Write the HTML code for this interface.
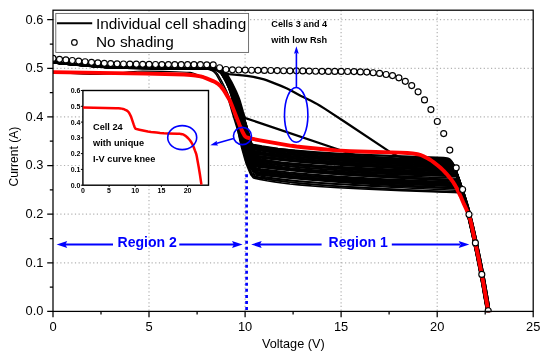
<!DOCTYPE html>
<html lang="en">
<head>
<meta charset="utf-8">
<title>I-V curves: individual cell shading</title>
<style>
html,body{margin:0;padding:0;background:#fff;}
body{width:550px;height:356px;overflow:hidden;}
svg{display:block;}
</style>
</head>
<body>
<svg width="550" height="356" viewBox="0 0 550 356" style="font-family:'Liberation Sans',Arial,Helvetica,sans-serif">
<rect width="550" height="356" fill="#fff"/>
<defs><clipPath id="pc"><rect x="53.0" y="10.2" width="480.2" height="302.0"/></clipPath></defs>
<path d="M149.0,10.2 V311.4 M245.1,10.2 V311.4 M341.1,10.2 V311.4 M437.2,10.2 V311.4 M53.0,262.8 H533.2 M53.0,214.2 H533.2 M53.0,165.5 H533.2 M53.0,116.9 H533.2 M53.0,68.3 H533.2 M53.0,19.7 H533.2" fill="none" stroke="#b2b2b2" stroke-width="1.2" stroke-dasharray="1.2 2.45"/>
<g clip-path="url(#pc)" fill="none" stroke-linejoin="round" stroke-linecap="butt">
<g stroke="#000" stroke-width="2.25">
<path d="M53.0,62.0 L57.0,62.6 L61.0,63.1 L97.0,66.2 L108.0,66.9 L125.5,67.4 L149.5,67.8 L175.0,68.1 L208.0,68.2 L213.0,68.5 L216.5,69.2 L218.0,69.8 L220.0,70.8 L221.5,71.9 L223.0,73.5 L224.5,75.9 L227.5,81.2 L230.5,87.2 L233.0,92.5 L234.5,96.1 L236.0,100.2 L239.5,112.2 L244.0,126.8 L248.0,141.1 L248.5,142.6 L249.0,143.6 L249.5,144.0 L253.5,144.9 L262.0,146.4 L278.0,148.8 L295.0,150.9 L314.0,152.8 L338.0,154.8 L365.5,156.6 L395.5,158.3 L442.5,160.7 L445.0,160.9 L446.5,161.2 L448.0,161.7 L449.5,162.4 L450.5,163.1 L451.5,164.1 L453.0,166.1 L454.5,168.9 L456.5,173.8 L459.0,181.3 L462.5,192.7 L465.5,203.2 L468.0,212.7 L470.5,222.8 L473.0,233.7 L476.0,247.5 L479.0,261.9 L482.5,280.1 L489.0,317.2"/>
<path d="M53.0,62.1 L56.5,62.6 L60.0,63.1 L78.0,64.7 L98.5,66.5 L108.0,67.2 L125.5,67.7 L149.0,68.0 L175.0,68.3 L208.5,68.4 L211.0,68.6 L214.0,68.9 L216.5,69.4 L218.0,69.9 L220.0,70.9 L221.5,71.9 L223.0,73.4 L224.0,74.8 L227.0,80.0 L228.5,82.9 L232.0,90.0 L234.0,94.4 L235.5,98.2 L237.0,102.7 L240.0,113.2 L244.0,126.1 L249.0,143.7 L249.5,144.8 L250.0,145.3 L250.5,145.4 L263.5,147.3 L278.5,149.1 L295.0,150.6 L313.5,152.0 L337.0,153.5 L364.5,154.8 L396.0,156.2 L443.5,157.9 L445.5,158.1 L447.0,158.3 L448.0,158.6 L449.0,159.0 L450.0,159.7 L450.5,160.2 L451.5,161.5 L452.0,162.3 L453.5,165.3 L455.5,170.6 L458.0,178.6 L461.5,190.8 L464.5,201.9 L467.5,213.8 L470.0,224.4 L472.5,235.6 L475.5,249.6 L478.5,264.3 L482.0,282.8 L489.0,322.8"/>
<path d="M53.0,62.0 L57.0,62.6 L61.0,63.1 L96.5,66.2 L107.5,66.9 L124.5,67.4 L148.0,67.8 L175.0,68.1 L207.5,68.2 L210.5,68.4 L213.5,68.7 L216.0,69.2 L217.5,69.7 L219.0,70.4 L220.5,71.4 L222.0,72.8 L223.0,74.0 L226.0,79.2 L228.0,82.9 L231.5,90.1 L233.5,94.5 L235.0,98.4 L236.0,101.3 L239.0,111.7 L243.5,126.4 L248.5,144.0 L249.0,145.2 L249.5,145.8 L250.0,146.0 L257.0,147.2 L265.0,148.4 L281.5,150.5 L300.0,152.5 L320.5,154.2 L344.5,155.9 L372.5,157.5 L404.5,159.0 L446.0,160.7 L449.0,161.0 L450.5,161.5 L451.5,162.2 L452.0,162.8 L453.0,164.3 L454.5,167.6 L456.0,171.9 L459.0,181.7 L463.0,195.6 L466.0,206.8 L468.5,216.7 L471.0,227.4 L473.5,238.6 L476.5,252.7 L479.0,265.0 L482.0,280.8 L489.0,320.7"/>
<path d="M53.0,62.4 L57.0,63.0 L61.0,63.5 L96.5,66.6 L107.5,67.3 L125.0,67.8 L148.5,68.2 L175.0,68.5 L209.0,68.6 L212.5,68.8 L215.0,69.1 L217.5,69.7 L219.0,70.2 L220.5,71.0 L222.0,72.0 L223.5,73.4 L224.5,74.8 L227.5,80.0 L229.0,82.8 L232.5,89.9 L234.5,94.3 L236.0,98.1 L237.5,102.6 L240.5,113.0 L245.0,127.6 L248.5,140.2 L250.0,145.2 L250.5,146.3 L251.0,146.7 L251.5,146.9 L257.0,147.9 L264.0,149.0 L278.5,150.9 L295.0,152.7 L313.5,154.3 L336.5,155.9 L364.0,157.5 L398.0,159.3 L447.5,161.6 L450.0,161.9 L451.0,162.1 L451.5,162.4 L452.5,163.3 L453.0,164.0 L454.0,166.0 L455.5,169.9 L457.0,174.5 L461.5,189.0 L464.5,199.0 L467.5,209.9 L470.0,219.8 L472.5,230.4 L475.0,241.7 L480.0,265.7 L483.0,281.5 L489.0,315.8"/>
<path d="M53.0,62.0 L57.0,62.6 L61.0,63.1 L96.5,66.2 L107.5,66.9 L125.0,67.4 L148.5,67.8 L175.0,68.1 L209.5,68.2 L213.5,68.5 L215.5,68.8 L218.0,69.3 L219.5,69.9 L221.0,70.7 L222.5,71.8 L224.0,73.3 L225.0,74.7 L227.5,79.0 L229.5,82.8 L233.0,89.9 L235.0,94.4 L236.5,98.2 L238.0,102.7 L241.0,113.2 L245.0,126.1 L249.0,140.4 L250.5,145.4 L251.0,146.9 L251.5,147.9 L252.0,148.2 L252.5,148.4 L259.0,149.5 L266.5,150.7 L282.5,152.8 L300.0,154.6 L320.0,156.3 L340.0,157.6 L362.5,158.9 L399.0,160.7 L449.0,162.7 L451.0,162.9 L452.0,163.2 L452.5,163.6 L453.0,164.1 L454.0,165.7 L455.0,168.1 L457.0,173.9 L462.5,190.6 L465.0,198.5 L468.0,208.9 L470.5,218.4 L472.5,226.6 L475.0,237.5 L478.0,251.4 L480.5,263.5 L484.0,281.8 L489.0,310.5"/>
<path d="M53.0,62.0 L57.0,62.6 L61.0,63.0 L96.5,66.1 L107.5,66.9 L124.5,67.4 L148.0,67.7 L174.5,68.0 L208.5,68.1 L211.5,68.3 L214.5,68.7 L217.0,69.2 L218.5,69.7 L220.0,70.5 L221.5,71.5 L223.0,72.9 L224.0,74.3 L227.0,79.5 L228.5,82.3 L232.0,89.4 L234.0,93.8 L235.5,97.5 L237.0,102.0 L240.0,112.4 L244.5,127.1 L248.0,139.6 L250.0,146.3 L250.5,147.7 L251.0,148.5 L251.5,148.8 L252.0,149.0 L258.5,150.2 L266.0,151.4 L273.5,152.5 L281.5,153.6 L299.0,155.5 L319.0,157.3 L338.5,158.7 L361.5,160.1 L399.0,162.1 L450.0,164.5 L452.0,164.6 L453.0,165.0 L453.5,165.3 L454.0,166.0 L454.5,166.9 L455.5,169.3 L463.0,191.0 L465.0,197.0 L467.0,203.4 L469.0,210.4 L471.0,218.0 L473.0,226.1 L475.5,236.9 L480.5,260.4 L484.0,278.3 L489.0,306.8"/>
<path d="M53.0,61.9 L57.5,62.6 L61.5,63.0 L96.0,66.2 L107.5,67.0 L124.5,67.5 L147.0,67.9 L174.0,68.2 L207.0,68.3 L210.5,68.5 L213.0,68.8 L215.5,69.4 L217.0,69.9 L218.5,70.7 L220.0,71.7 L221.5,73.2 L222.5,74.6 L225.5,79.8 L227.5,83.6 L231.0,90.8 L233.0,95.4 L234.5,99.3 L235.5,102.4 L238.5,112.9 L243.0,127.5 L246.5,140.1 L248.5,146.8 L249.5,149.6 L250.0,150.2 L250.5,150.4 L257.5,151.6 L266.0,153.0 L274.5,154.2 L283.5,155.3 L303.0,157.5 L324.5,159.4 L347.0,161.1 L372.5,162.7 L407.5,164.5 L451.5,166.5 L452.5,166.5 L453.5,166.8 L454.0,167.1 L454.5,167.7 L455.5,169.9 L457.5,176.0 L461.5,188.8 L464.0,197.1 L466.5,206.0 L469.0,215.5 L471.0,223.6 L473.5,234.5 L476.0,245.9 L480.5,267.8 L483.5,283.8 L489.0,315.3"/>
<path d="M53.0,62.2 L57.5,62.9 L61.5,63.4 L96.5,66.5 L107.5,67.2 L125.0,67.8 L148.5,68.1 L175.0,68.4 L209.0,68.5 L212.0,68.7 L215.0,69.1 L217.5,69.6 L219.5,70.4 L221.0,71.2 L222.5,72.3 L223.5,73.3 L224.0,73.9 L225.0,75.4 L227.5,79.8 L229.5,83.6 L233.0,90.8 L235.0,95.3 L236.5,99.1 L237.5,102.2 L240.5,112.6 L245.0,127.3 L249.0,141.6 L251.5,149.8 L252.0,151.3 L252.5,152.3 L253.0,152.7 L253.5,152.9 L260.0,154.1 L267.5,155.3 L275.5,156.5 L283.5,157.5 L301.5,159.4 L322.0,161.2 L343.5,162.7 L369.0,164.1 L404.5,165.9 L452.0,167.9 L453.5,168.0 L454.0,168.2 L454.5,168.5 L455.0,169.2 L456.0,171.7 L458.0,178.1 L461.5,189.9 L464.0,198.7 L466.5,208.0 L469.0,218.0 L471.0,226.4 L475.5,246.9 L480.0,268.9 L482.5,282.2 L489.0,319.3"/>
<path d="M53.0,62.2 L57.5,62.9 L61.5,63.3 L96.0,66.4 L107.5,67.2 L125.5,67.8 L150.0,68.2 L175.5,68.4 L210.5,68.6 L213.5,68.7 L216.5,69.1 L219.0,69.6 L221.0,70.3 L222.5,71.1 L224.0,72.3 L225.5,73.8 L226.5,75.3 L229.0,79.7 L231.0,83.4 L234.5,90.6 L236.5,95.1 L238.0,98.9 L239.0,102.0 L242.0,112.4 L246.5,127.0 L250.5,141.3 L253.0,149.6 L253.5,151.0 L254.0,152.0 L254.5,152.3 L257.0,152.7 L267.5,153.9 L285.5,155.8 L304.5,157.5 L325.0,159.0 L349.5,160.7 L378.0,162.3 L411.0,164.1 L452.0,166.1 L453.5,166.3 L454.0,166.6 L454.5,167.2 L455.0,168.1 L456.0,170.8 L464.5,196.2 L468.0,207.9 L471.5,221.2 L473.5,229.6 L476.0,240.7 L481.0,264.5 L484.0,280.1 L489.0,308.7"/>
<path d="M53.0,62.1 L57.0,62.7 L61.0,63.2 L96.5,66.3 L107.5,67.1 L124.5,67.5 L147.0,67.9 L174.0,68.2 L206.5,68.3 L210.0,68.5 L212.5,68.9 L215.0,69.4 L216.5,70.0 L218.0,70.7 L219.5,71.8 L221.0,73.2 L222.0,74.6 L225.0,79.8 L227.0,83.6 L230.5,90.8 L232.5,95.4 L234.0,99.3 L235.0,102.5 L238.0,112.9 L242.5,127.6 L246.0,140.1 L248.5,148.5 L249.5,151.5 L250.0,152.4 L250.5,152.8 L255.0,153.6 L265.0,155.0 L283.5,157.2 L303.0,159.2 L324.5,161.0 L345.5,162.5 L369.5,164.0 L406.5,166.0 L452.5,168.1 L454.0,168.3 L454.5,168.5 L455.0,169.2 L455.5,170.3 L456.5,173.2 L459.5,183.0 L463.0,194.9 L465.5,203.9 L467.5,211.5 L471.5,228.1 L476.5,251.0 L480.5,270.9 L483.0,284.4 L489.0,318.7"/>
<path d="M53.0,61.9 L57.5,62.6 L61.5,63.0 L96.0,66.1 L107.5,66.9 L124.5,67.4 L148.0,67.8 L174.5,68.1 L208.0,68.2 L211.0,68.4 L214.0,68.7 L216.5,69.3 L218.5,70.1 L220.0,70.9 L221.5,72.0 L222.5,73.0 L223.5,74.4 L226.5,79.6 L228.5,83.3 L232.0,90.5 L234.0,95.1 L235.5,98.9 L236.5,102.0 L239.5,112.4 L244.0,127.1 L248.0,141.4 L251.0,151.3 L252.0,154.1 L252.5,154.8 L253.0,155.1 L258.5,156.0 L266.5,157.2 L283.0,159.2 L301.0,161.0 L321.5,162.7 L342.5,164.2 L367.5,165.7 L404.0,167.7 L453.0,170.1 L454.5,170.2 L455.0,170.3 L455.5,170.8 L456.0,171.7 L456.5,173.0 L459.5,182.5 L463.5,195.7 L467.5,210.1 L469.5,218.0 L471.5,226.3 L476.0,246.6 L480.5,268.5 L483.5,284.6 L489.0,316.1"/>
<path d="M53.0,61.9 L57.5,62.6 L61.5,63.1 L96.0,66.2 L107.5,67.0 L125.5,67.5 L150.0,67.9 L176.0,68.2 L210.5,68.3 L213.5,68.4 L216.5,68.8 L219.0,69.3 L221.0,70.0 L222.5,70.8 L224.0,71.9 L225.5,73.4 L226.5,74.9 L229.5,80.2 L231.5,84.0 L235.0,91.2 L237.0,95.8 L238.5,99.9 L239.5,103.1 L242.0,111.8 L246.5,126.4 L250.5,140.7 L253.5,150.7 L255.0,155.1 L255.5,155.9 L256.0,156.2 L271.0,158.1 L290.0,160.1 L310.0,161.8 L332.0,163.5 L354.5,165.0 L379.5,166.5 L413.0,168.2 L453.5,170.1 L454.5,170.2 L455.0,170.4 L455.5,170.8 L456.0,171.6 L456.5,172.9 L459.0,180.7 L463.5,195.4 L467.5,209.7 L469.5,217.4 L471.5,225.7 L476.0,245.9 L480.5,267.7 L483.5,283.7 L489.0,315.2"/>
<path d="M53.0,62.4 L57.0,63.0 L61.0,63.4 L96.5,66.5 L107.5,67.3 L125.0,67.8 L148.5,68.2 L175.0,68.4 L209.0,68.5 L212.0,68.7 L215.0,69.1 L217.5,69.6 L219.5,70.4 L221.0,71.2 L222.5,72.4 L223.5,73.5 L224.5,75.0 L227.0,79.6 L228.5,82.8 L230.0,86.3 L232.0,91.5 L233.5,96.1 L234.5,99.6 L238.0,114.6 L245.5,142.7 L249.0,154.2 L249.5,155.5 L250.0,156.1 L250.5,156.3 L266.5,158.4 L285.0,160.4 L305.0,162.3 L327.5,164.0 L351.0,165.6 L377.0,167.0 L411.5,168.8 L453.5,170.6 L454.5,170.7 L455.0,170.8 L455.5,171.2 L456.0,172.2 L456.5,173.6 L458.5,180.2 L462.0,192.4 L466.5,209.4 L468.5,217.5 L471.0,228.3 L476.0,251.4 L480.0,271.3 L482.5,284.9 L489.0,322.0"/>
<path d="M53.0,61.8 L57.5,62.5 L61.5,63.0 L96.5,66.1 L107.5,66.8 L125.0,67.4 L148.5,67.7 L175.0,68.0 L208.5,68.1 L211.5,68.3 L214.5,68.6 L217.0,69.2 L219.0,69.9 L220.5,70.7 L222.0,71.8 L223.5,73.3 L224.5,74.7 L227.5,80.0 L229.5,83.8 L233.0,91.0 L235.0,95.7 L236.5,99.7 L237.5,102.9 L240.0,111.6 L244.5,126.3 L249.0,142.3 L252.5,153.7 L253.5,156.6 L254.0,157.4 L254.5,157.8 L255.0,157.9 L261.5,159.3 L268.5,160.6 L276.0,161.8 L284.0,163.0 L292.5,164.1 L301.5,165.1 L321.5,167.0 L342.5,168.5 L367.5,170.1 L404.0,172.0 L455.0,174.4 L456.0,174.5 L456.5,174.7 L457.0,175.3 L457.5,176.5 L458.0,177.9 L464.0,198.1 L468.0,213.0 L472.0,229.7 L476.5,250.4 L480.5,270.1 L483.0,283.5 L489.0,317.9"/>
<path d="M53.0,62.2 L57.0,62.8 L61.0,63.3 L96.5,66.4 L107.5,67.2 L125.0,67.7 L149.5,68.1 L175.5,68.3 L211.0,68.5 L215.0,68.8 L217.0,69.0 L219.5,69.6 L221.0,70.2 L222.5,71.0 L224.0,72.2 L225.0,73.3 L226.0,74.8 L227.5,77.8 L229.0,81.1 L230.0,83.6 L231.5,87.8 L233.0,92.6 L234.5,98.1 L238.0,114.9 L244.5,140.9 L246.5,147.9 L249.0,156.0 L249.5,157.3 L250.0,158.1 L250.5,158.3 L256.0,159.3 L264.5,160.5 L281.0,162.5 L299.5,164.2 L320.5,165.8 L342.0,167.1 L366.5,168.4 L404.0,170.0 L454.0,171.8 L455.5,172.0 L456.0,172.2 L456.5,172.7 L457.5,175.1 L465.0,197.2 L468.5,208.9 L472.0,222.2 L474.0,230.7 L476.5,241.8 L481.0,263.2 L484.5,281.5 L489.0,307.3"/>
<path d="M53.0,62.1 L57.0,62.7 L61.0,63.1 L96.5,66.2 L107.5,67.0 L125.0,67.5 L149.0,67.8 L175.0,68.1 L210.5,68.2 L214.5,68.5 L216.5,68.8 L219.0,69.4 L221.0,70.2 L222.5,71.1 L224.0,72.3 L225.0,73.4 L226.0,74.9 L229.0,80.1 L231.0,83.9 L234.5,91.2 L236.5,95.8 L238.0,99.8 L239.0,103.0 L241.5,111.8 L246.0,126.4 L250.0,140.7 L253.5,152.2 L255.5,158.5 L256.0,159.7 L256.5,160.4 L257.0,160.7 L271.0,162.4 L288.5,164.2 L307.5,165.8 L329.0,167.3 L351.5,168.6 L377.0,170.0 L411.5,171.6 L454.5,173.4 L456.0,173.6 L456.5,174.0 L457.0,174.9 L457.5,176.2 L463.5,195.9 L467.5,210.3 L471.5,226.6 L476.0,246.9 L480.5,268.9 L483.0,282.2 L489.0,316.5"/>
<path d="M53.0,62.1 L57.5,62.8 L61.5,63.2 L96.5,66.4 L107.5,67.1 L125.0,67.7 L149.5,68.0 L175.0,68.3 L211.0,68.4 L215.0,68.7 L217.0,69.0 L219.5,69.6 L221.5,70.4 L223.0,71.3 L224.5,72.5 L225.5,73.5 L226.5,75.0 L229.5,80.2 L231.5,84.1 L235.0,91.3 L237.0,95.9 L238.5,99.9 L239.5,103.1 L242.5,113.5 L246.5,126.5 L251.0,142.5 L254.5,153.9 L256.0,158.5 L256.5,159.7 L257.0,160.3 L257.5,160.5 L263.0,161.3 L272.0,162.5 L289.0,164.5 L307.5,166.2 L328.5,167.9 L349.0,169.3 L372.0,170.7 L408.5,172.6 L455.5,174.8 L456.5,174.9 L457.0,175.1 L457.5,175.8 L458.5,178.3 L463.0,191.9 L465.5,199.8 L469.0,212.0 L472.5,225.9 L477.0,245.9 L481.5,267.7 L484.5,283.7 L489.0,309.5"/>
<path d="M53.0,61.8 L57.5,62.5 L61.5,63.0 L96.5,66.1 L107.5,66.8 L125.0,67.4 L149.0,67.7 L175.0,68.0 L210.0,68.1 L213.5,68.4 L216.0,68.7 L218.5,69.3 L220.5,70.1 L222.0,70.9 L223.5,72.2 L224.5,73.3 L225.5,74.9 L227.5,78.8 L229.0,82.0 L230.5,85.6 L232.5,91.1 L234.0,95.7 L235.0,99.4 L238.5,114.6 L246.0,142.6 L248.5,151.0 L251.0,158.9 L251.5,160.2 L252.0,161.0 L252.5,161.4 L257.5,162.2 L267.5,163.6 L286.0,165.8 L306.0,167.8 L328.0,169.5 L352.0,171.1 L379.0,172.6 L407.0,173.9 L455.0,175.8 L456.5,175.9 L457.0,176.2 L457.5,177.1 L458.0,178.5 L462.5,194.1 L467.0,211.3 L469.0,219.5 L471.5,230.4 L476.0,251.2 L480.0,271.1 L482.5,284.7 L489.0,321.8"/>
<path d="M53.0,62.3 L57.0,63.0 L61.0,63.4 L96.5,66.5 L107.5,67.2 L124.5,67.7 L148.0,68.1 L174.5,68.4 L209.0,68.5 L213.0,68.8 L215.0,69.1 L217.5,69.7 L219.5,70.5 L221.0,71.3 L222.5,72.6 L223.5,73.6 L224.5,75.1 L227.5,80.3 L229.5,84.1 L233.0,91.4 L235.0,96.0 L236.5,100.0 L237.5,103.2 L240.0,111.9 L244.5,126.6 L249.5,144.3 L254.0,158.7 L255.0,161.5 L255.5,162.3 L256.0,162.7 L256.5,162.8 L262.5,164.1 L269.0,165.3 L276.0,166.4 L283.0,167.4 L290.5,168.3 L299.0,169.1 L318.0,170.6 L338.0,171.8 L362.0,172.9 L399.0,174.3 L456.0,176.2 L457.0,176.3 L457.5,176.5 L458.0,177.0 L459.0,179.4 L463.5,192.4 L465.5,198.5 L469.0,210.4 L472.5,223.9 L477.0,243.7 L481.5,265.2 L484.5,281.0 L489.0,306.7"/>
<path d="M53.0,61.9 L57.5,62.6 L61.5,63.0 L96.0,66.1 L107.0,66.9 L123.5,67.4 L146.0,67.8 L173.5,68.1 L207.5,68.2 L211.5,68.5 L213.5,68.8 L216.0,69.4 L218.0,70.2 L219.5,71.1 L221.0,72.4 L222.0,73.5 L223.0,75.0 L225.5,79.6 L227.0,82.7 L229.0,87.3 L231.0,92.5 L232.0,95.5 L233.0,99.0 L237.0,116.6 L242.0,136.5 L244.0,143.9 L246.0,150.6 L249.0,160.1 L249.5,161.5 L250.0,162.3 L250.5,162.7 L251.0,162.9 L257.0,164.2 L263.5,165.5 L270.5,166.7 L278.0,167.8 L286.0,168.8 L294.5,169.7 L313.5,171.4 L334.0,172.7 L359.5,174.1 L397.5,175.9 L456.5,178.3 L457.5,178.4 L458.0,178.6 L458.5,179.0 L459.0,180.0 L459.5,181.3 L463.0,191.8 L465.5,199.6 L469.0,211.8 L472.5,225.7 L477.0,245.7 L481.5,267.4 L484.5,283.4 L489.0,309.2" stroke-width="1.6"/>
<path d="M53.0,62.0 L56.5,62.6 L60.0,63.0 L77.5,64.7 L98.5,66.5 L107.5,67.1 L124.5,67.6 L147.5,68.0 L174.0,68.3 L208.0,68.4 L212.0,68.7 L214.0,69.0 L216.5,69.6 L218.5,70.4 L220.0,71.3 L221.5,72.5 L222.5,73.5 L223.5,75.0 L226.5,80.2 L228.5,84.0 L232.0,91.3 L234.0,95.9 L235.5,99.9 L236.5,103.1 L239.5,113.5 L243.5,126.4 L248.5,144.1 L253.0,158.6 L254.5,162.9 L255.0,163.7 L255.5,164.1 L256.0,164.3 L262.5,165.5 L271.0,166.8 L288.0,169.2 L307.0,171.3 L328.0,173.2 L350.0,174.9 L375.0,176.5 L411.0,178.5 L457.0,180.8 L458.0,180.9 L458.5,181.1 L459.0,181.7 L460.0,184.5 L463.0,194.5 L465.5,203.4 L469.0,216.8 L473.0,234.0 L477.5,254.9 L481.0,272.4 L483.5,286.1 L489.0,317.5"/>
<path d="M53.0,62.0 L57.5,62.7 L61.5,63.2 L96.0,66.3 L107.0,67.1 L124.0,67.6 L147.5,68.0 L174.5,68.3 L209.0,68.4 L213.0,68.7 L215.5,69.0 L218.0,69.7 L220.0,70.5 L221.5,71.5 L222.5,72.3 L223.5,73.4 L224.5,74.9 L226.5,78.7 L228.0,81.8 L229.5,85.4 L231.5,90.7 L233.0,95.4 L234.0,99.0 L237.5,115.0 L243.0,136.8 L244.5,142.4 L247.0,150.9 L250.5,161.9 L251.5,164.4 L252.0,165.1 L252.5,165.4 L255.0,165.8 L266.0,167.2 L285.5,169.2 L306.0,171.1 L328.5,172.8 L351.5,174.4 L378.0,176.0 L413.5,178.0 L456.5,180.2 L458.0,180.4 L458.5,180.9 L459.0,181.9 L459.5,183.4 L464.0,199.3 L468.5,216.8 L472.5,234.2 L477.0,255.2 L480.5,272.8 L482.5,283.7 L489.0,320.8"/>
<path d="M53.0,61.8 L57.0,62.4 L61.0,62.9 L96.0,66.0 L107.0,66.8 L123.5,67.3 L146.5,67.7 L174.0,68.0 L208.0,68.1 L212.0,68.4 L214.5,68.8 L217.0,69.4 L219.0,70.3 L220.5,71.3 L222.0,72.6 L223.0,73.8 L224.0,75.4 L227.0,80.8 L229.0,84.7 L232.5,92.0 L234.5,96.7 L235.5,99.5 L236.5,102.6 L239.5,113.0 L243.5,126.0 L248.5,143.7 L253.0,158.1 L254.5,162.6 L255.5,165.2 L256.0,165.9 L256.5,166.3 L257.0,166.4 L272.0,168.3 L289.5,170.1 L308.5,171.8 L330.0,173.4 L352.0,174.9 L377.0,176.3 L412.5,178.2 L457.0,180.3 L458.0,180.4 L458.5,180.5 L459.0,181.0 L459.5,181.9 L460.0,183.3 L465.0,199.1 L467.0,205.9 L469.0,213.3 L472.5,227.5 L477.0,247.7 L481.5,269.7 L484.0,283.1 L489.0,311.7"/>
<path d="M53.0,62.4 L57.0,63.0 L61.0,63.4 L96.5,66.5 L107.0,67.2 L123.5,67.7 L146.0,68.1 L174.0,68.4 L207.0,68.5 L211.0,68.8 L213.5,69.2 L216.0,69.8 L218.0,70.7 L219.5,71.6 L221.0,72.9 L222.0,74.1 L223.0,75.7 L225.5,80.2 L227.5,84.2 L230.0,89.8 L231.5,93.5 L233.0,97.8 L234.0,101.1 L237.5,115.0 L241.0,127.4 L244.5,140.3 L247.5,150.5 L250.5,160.0 L252.5,165.6 L253.0,166.8 L253.5,167.6 L254.0,168.0 L254.5,168.2 L260.5,169.1 L270.0,170.3 L289.0,172.5 L309.0,174.3 L331.5,176.1 L354.5,177.6 L380.5,179.0 L415.5,180.7 L457.5,182.5 L458.5,182.5 L459.0,182.7 L459.5,183.2 L460.0,184.3 L460.5,185.8 L463.0,194.0 L465.5,202.7 L469.5,218.0 L473.0,232.9 L477.5,253.7 L481.0,271.1 L483.5,284.6 L489.0,316.1"/>
<path d="M53.0,62.2 L57.0,62.8 L61.0,63.3 L96.0,66.3 L107.0,67.1 L123.5,67.6 L146.0,68.0 L173.5,68.3 L207.0,68.4 L211.0,68.7 L213.5,69.1 L216.0,69.7 L218.0,70.6 L219.5,71.6 L221.0,73.0 L222.0,74.3 L223.0,76.0 L225.5,80.7 L227.0,83.9 L229.0,88.8 L230.5,93.0 L231.5,96.2 L232.5,100.0 L235.0,112.3 L236.5,119.2 L240.5,136.7 L242.5,144.5 L245.5,154.8 L248.5,164.1 L249.5,166.7 L250.0,167.7 L250.5,168.3 L251.0,168.6 L252.0,168.9 L255.0,169.4 L265.0,171.0 L274.5,172.3 L284.0,173.5 L304.0,175.6 L326.0,177.6 L350.0,179.4 L378.0,181.2 L413.5,183.1 L458.0,185.3 L459.5,185.5 L460.0,185.9 L460.5,186.9 L461.0,188.4 L465.0,202.6 L469.0,218.4 L473.0,235.8 L477.5,257.0 L481.0,274.7 L489.0,320.0" stroke-width="1.6"/>
<path d="M53.0,62.1 L57.0,62.7 L61.0,63.1 L96.0,66.2 L107.0,67.0 L124.0,67.5 L148.0,67.9 L175.0,68.1 L210.5,68.3 L214.5,68.6 L217.0,68.9 L219.5,69.6 L221.5,70.5 L223.0,71.4 L224.5,72.7 L225.5,74.0 L226.5,75.5 L229.5,80.9 L231.5,84.8 L235.0,92.1 L237.0,96.8 L238.0,99.5 L239.0,102.7 L242.0,113.1 L246.0,126.1 L251.0,143.8 L256.0,159.7 L257.5,164.1 L259.5,169.2 L260.5,171.1 L261.0,171.6 L261.5,171.9 L266.0,172.7 L273.5,173.9 L281.0,175.0 L289.0,176.0 L306.0,177.6 L325.5,179.0 L346.0,180.2 L371.0,181.4 L407.0,182.7 L458.0,184.4 L459.0,184.5 L459.5,184.6 L460.0,185.1 L460.5,186.3 L461.0,187.8 L465.5,203.3 L469.5,218.8 L473.5,236.1 L477.5,254.8 L481.0,272.3 L483.5,285.9 L489.0,317.4"/>
<path d="M53.0,62.0 L57.0,62.6 L61.0,63.0 L96.5,66.2 L107.5,66.9 L125.5,67.5 L150.0,67.8 L176.0,68.1 L210.5,68.2 L214.5,68.5 L217.0,68.8 L219.5,69.4 L221.5,70.3 L223.0,71.2 L224.0,72.1 L225.0,73.2 L225.5,74.0 L226.5,75.8 L228.5,80.1 L229.5,82.6 L231.0,86.9 L232.5,91.6 L234.0,97.3 L235.0,102.0 L237.0,112.6 L238.0,117.2 L242.5,136.3 L244.5,144.0 L248.5,157.3 L251.0,164.8 L252.0,167.3 L252.5,168.3 L253.0,169.0 L253.5,169.3 L254.0,169.5 L260.0,170.5 L267.5,171.7 L275.5,172.7 L283.5,173.7 L301.5,175.4 L322.0,177.0 L344.5,178.4 L371.5,179.8 L408.0,181.4 L457.5,183.4 L459.0,183.6 L459.5,183.9 L460.0,184.8 L460.5,186.2 L465.0,201.6 L469.0,216.8 L473.0,233.9 L477.5,254.9 L481.0,272.4 L483.5,286.0 L489.0,317.5"/>
<path d="M53.0,61.8 L57.0,62.5 L61.0,62.9 L96.0,66.1 L107.0,66.8 L123.5,67.3 L146.0,67.7 L174.0,68.0 L207.0,68.1 L211.0,68.4 L213.5,68.8 L216.0,69.4 L218.0,70.3 L219.5,71.2 L221.0,72.5 L222.0,73.6 L223.0,75.2 L226.0,80.5 L228.0,84.4 L231.5,91.7 L233.5,96.4 L234.5,99.0 L235.5,102.1 L238.5,112.6 L243.0,127.2 L247.5,143.2 L253.0,160.8 L254.5,165.0 L256.5,169.9 L257.0,171.0 L257.5,171.7 L258.0,172.1 L258.5,172.3 L273.5,174.3 L292.0,176.3 L311.5,178.1 L333.5,179.8 L355.5,181.2 L380.0,182.6 L415.5,184.4 L459.0,186.3 L460.0,186.4 L460.5,186.6 L461.0,187.2 L462.0,189.8 L464.5,197.8 L466.5,204.7 L470.0,217.8 L473.5,232.6 L477.5,250.9 L481.5,270.6 L484.0,284.0 L489.0,312.7"/>
<path d="M53.0,62.0 L57.0,62.6 L61.0,63.1 L95.5,66.2 L106.5,67.0 L122.5,67.5 L145.5,67.9 L174.0,68.2 L207.5,68.4 L212.0,68.7 L214.5,69.1 L217.0,69.8 L219.0,70.8 L220.5,71.8 L221.5,72.7 L222.5,73.9 L223.5,75.6 L226.0,80.2 L227.5,83.3 L230.0,89.1 L231.5,93.1 L232.5,96.1 L233.5,99.5 L237.5,116.6 L243.5,139.5 L246.0,148.2 L249.5,159.4 L251.5,165.2 L254.0,171.3 L254.5,172.3 L255.0,172.9 L255.5,173.2 L258.0,173.6 L268.0,175.0 L285.5,176.9 L304.0,178.5 L325.0,180.0 L345.5,181.2 L369.0,182.3 L407.5,183.9 L458.5,185.7 L459.5,185.8 L460.0,186.1 L460.5,186.9 L461.5,189.9 L464.0,198.6 L466.5,207.9 L470.0,222.0 L474.0,239.7 L478.0,258.7 L481.0,273.9 L483.0,284.8 L489.0,319.1"/>
<path d="M53.0,62.1 L57.0,62.7 L61.0,63.2 L96.0,66.3 L107.0,67.1 L123.5,67.6 L146.0,68.0 L173.5,68.3 L207.0,68.4 L211.0,68.7 L213.5,69.1 L216.0,69.7 L218.0,70.6 L219.5,71.7 L220.5,72.5 L221.5,73.7 L222.5,75.2 L225.0,79.9 L226.5,83.0 L228.5,87.8 L230.0,91.9 L231.5,96.8 L232.5,100.8 L235.5,116.0 L239.5,134.2 L241.0,140.7 L243.0,148.2 L246.5,159.9 L248.5,165.7 L250.0,169.5 L251.5,172.9 L252.0,173.7 L252.5,174.1 L253.0,174.4 L258.0,175.5 L265.5,176.9 L273.0,178.0 L281.0,179.1 L289.5,180.1 L298.5,181.1 L318.5,182.7 L340.0,184.0 L366.0,185.2 L404.0,186.7 L460.0,188.7 L461.0,188.7 L461.5,188.9 L462.0,189.4 L462.5,190.3 L463.0,191.6 L465.0,197.7 L467.0,204.3 L470.5,217.2 L474.0,231.7 L478.0,249.9 L482.0,269.5 L484.5,282.8 L489.0,308.6" stroke-width="1.6"/>
<path d="M53.0,62.0 L57.0,62.6 L61.0,63.1 L96.5,66.1 L107.0,66.9 L123.5,67.4 L146.0,67.7 L173.5,68.0 L208.0,68.2 L212.0,68.5 L214.5,68.8 L217.0,69.5 L219.0,70.5 L220.5,71.5 L221.5,72.4 L222.5,73.5 L223.5,75.1 L226.0,79.6 L228.0,83.7 L230.5,89.3 L232.0,93.1 L234.0,99.0 L238.0,114.7 L241.5,127.0 L245.5,141.7 L248.5,151.7 L251.5,161.1 L253.5,166.6 L256.0,172.5 L256.5,173.4 L257.0,174.0 L257.5,174.3 L260.0,174.7 L271.0,176.0 L290.0,178.0 L309.5,179.7 L331.5,181.4 L352.5,182.8 L375.5,184.2 L413.0,186.1 L460.0,188.3 L461.0,188.4 L461.5,188.7 L462.0,189.3 L463.0,191.9 L465.0,198.2 L467.0,204.8 L470.5,217.8 L474.0,232.4 L478.0,250.6 L482.0,270.3 L484.5,283.8 L489.0,309.6"/>
<path d="M53.0,62.2 L57.0,62.8 L61.0,63.2 L96.5,66.3 L107.0,67.0 L123.5,67.5 L147.0,67.9 L174.5,68.2 L208.0,68.3 L212.5,68.6 L215.0,69.0 L217.5,69.7 L219.5,70.7 L221.0,71.7 L222.0,72.7 L223.0,74.0 L224.0,75.7 L226.0,79.7 L227.0,81.9 L228.5,85.8 L230.0,90.2 L231.5,95.5 L232.5,100.0 L235.0,114.7 L238.5,133.4 L240.0,140.8 L241.5,147.2 L244.5,158.0 L246.0,162.9 L247.0,165.7 L248.5,169.5 L250.5,174.2 L251.0,175.0 L251.5,175.5 L252.0,175.8 L257.0,177.0 L264.5,178.5 L272.0,179.8 L280.0,180.9 L288.0,182.0 L297.0,183.0 L306.5,183.9 L317.0,184.8 L339.0,186.3 L366.5,187.9 L404.0,189.7 L460.0,192.1 L461.5,192.3 L462.0,192.7 L462.5,193.7 L463.0,195.2 L466.5,208.1 L470.5,224.4 L474.5,242.3 L478.0,259.0 L481.0,274.3 L483.0,285.2 L489.0,319.5" stroke-width="1.6"/>
<path d="M53.0,62.3 L57.0,62.9 L61.0,63.4 L96.0,66.4 L107.0,67.2 L124.0,67.7 L147.0,68.1 L174.5,68.4 L208.0,68.5 L212.5,68.8 L215.0,69.2 L217.5,69.9 L219.5,70.9 L221.0,71.9 L222.0,72.8 L223.0,74.1 L224.0,75.7 L226.0,79.5 L227.5,82.7 L229.5,87.6 L231.0,91.8 L232.0,94.9 L233.0,98.6 L234.0,103.0 L236.0,113.1 L237.5,119.7 L242.0,138.6 L244.5,147.7 L248.0,159.2 L250.5,166.4 L254.0,174.8 L254.5,175.7 L255.0,176.3 L255.5,176.5 L258.5,177.0 L268.5,178.3 L286.5,180.2 L305.5,181.9 L327.5,183.6 L350.0,185.0 L375.5,186.5 L412.5,188.3 L460.5,190.5 L461.5,190.6 L462.0,190.8 L462.5,191.2 L463.0,192.2 L463.5,193.5 L467.0,204.9 L470.5,217.8 L474.0,232.5 L478.0,250.7 L482.0,270.4 L484.5,283.8 L489.0,309.7" stroke-width="1.6"/>
<path d="M53.0,62.0 L57.0,62.6 L61.0,63.1 L96.0,66.2 L107.0,66.9 L124.0,67.4 L147.5,67.8 L174.5,68.1 L210.0,68.2 L214.0,68.5 L216.5,68.9 L219.0,69.6 L221.0,70.5 L222.5,71.6 L223.5,72.5 L224.0,73.1 L225.0,74.7 L227.0,78.9 L228.0,81.2 L229.0,83.9 L230.5,88.6 L232.0,94.0 L233.0,98.5 L236.0,116.5 L239.0,132.5 L240.5,139.9 L242.5,148.2 L245.5,158.7 L247.0,163.4 L248.0,166.2 L251.5,174.8 L252.5,176.9 L253.0,177.6 L253.5,177.9 L254.0,178.1 L260.0,179.4 L267.0,180.7 L274.5,181.9 L282.0,183.0 L290.0,184.0 L299.0,184.9 L318.5,186.5 L338.5,187.8 L363.0,189.0 L402.0,190.7 L460.5,192.7 L461.5,192.8 L462.0,193.1 L462.5,193.9 L463.5,197.1 L465.5,204.5 L468.0,214.2 L471.5,229.0 L475.5,247.3 L478.5,261.8 L481.5,277.3 L489.0,319.9" stroke-width="1.6"/>
<path d="M53.0,62.1 L64.0,63.6 L73.5,64.6 L88.0,65.9 L100.5,66.6 L121.0,67.4 L141.5,67.9 L158.0,68.1 L193.5,68.3 L207.0,68.6 L211.0,69.1 L216.0,70.0 L218.0,70.8 L222.5,72.7 L225.0,73.5 L229.0,74.1 L242.5,75.3 L247.0,75.8 L253.5,76.9 L260.0,78.4 L264.0,79.4 L267.0,80.4 L281.0,85.9 L286.5,88.3 L291.0,90.4 L300.5,95.7 L311.0,100.8 L316.0,103.4 L320.0,105.8 L325.0,108.9 L345.0,122.0 L389.5,151.6 L393.5,154.1 L396.5,155.6 L398.0,156.2 L399.5,156.7 L401.5,157.1 L403.5,157.4 L410.0,157.8 L443.5,159.2 L445.5,159.4 L447.0,159.6 L448.5,160.1 L449.5,160.6 L450.5,161.4 L451.5,162.5 L453.0,164.7 L454.5,167.9 L456.0,171.7 L459.0,180.8 L463.5,195.3 L466.5,205.8 L469.0,215.2 L471.5,225.5 L474.0,236.4 L477.0,250.3 L479.5,262.4 L483.0,280.6 L489.0,314.9"/>
<path d="M53.0,62.2 L56.5,62.7 L60.0,63.2 L78.5,64.9 L99.0,66.7 L108.5,67.3 L127.5,67.9 L153.0,68.3 L177.0,68.5 L211.5,68.6 L216.5,69.0 L220.0,69.6 L221.5,70.1 L223.5,71.1 L225.0,72.2 L226.0,73.2 L226.5,73.7 L227.5,75.2 L231.5,82.3 L236.0,91.5 L238.5,97.4 L240.0,101.7 L243.0,112.1 L244.5,116.8 L245.0,117.8 L245.5,118.1 L349.5,153.2 L360.0,156.5 L364.0,157.7 L367.5,158.5 L371.0,159.3 L374.5,159.8 L378.0,160.2 L382.5,160.6 L399.5,161.6 L446.0,163.7 L448.0,163.9 L449.5,164.1 L450.5,164.4 L451.5,164.9 L452.5,165.6 L453.0,166.1 L454.0,167.5 L455.5,170.6 L457.0,174.7 L460.0,183.9 L464.0,197.0 L467.0,207.6 L469.5,217.2 L472.0,227.6 L474.5,238.7 L477.5,252.7 L480.0,264.9 L483.0,280.6 L489.0,314.9"/>
<path d="M53.0,62.0 L57.0,62.6 L61.0,63.1 L95.0,66.2 L106.0,67.0 L120.5,67.5 L141.5,67.9 L170.5,68.2 L201.0,68.4 L205.5,68.7 L208.0,69.2 L210.0,69.7 L212.5,70.9 L214.0,72.0 L215.5,73.5 L216.5,74.9 L217.5,76.7 L220.0,81.1 L222.5,86.0 L225.5,92.4 L227.5,97.1 L228.5,99.9 L229.5,103.1 L232.0,111.8 L236.5,126.5 L241.5,144.2 L246.5,160.1 L248.5,165.8 L252.0,174.3 L253.0,176.3 L253.5,176.8 L254.0,177.1 L259.0,178.0 L267.5,179.4 L275.5,180.5 L284.0,181.5 L302.5,183.5 L323.5,185.3 L344.5,186.7 L368.5,188.1 L407.0,190.0 L460.0,192.4 L461.5,192.5 L462.0,192.8 L462.5,193.3 L463.0,194.2 L463.5,195.5 L464.5,198.7 L466.5,205.8 L470.0,219.2 L474.0,236.4 L478.0,255.1 L481.5,272.6 L484.0,286.2 L489.0,314.9" stroke-width="1.5"/>
<path d="M53.0,62.0 L57.5,62.7 L61.5,63.1 L95.5,66.2 L106.5,67.0 L121.5,67.5 L143.0,67.9 L171.5,68.2 L202.5,68.4 L206.5,68.7 L209.0,69.0 L211.5,69.7 L213.5,70.5 L215.0,71.5 L216.5,72.8 L217.5,74.0 L218.5,75.6 L221.5,80.9 L223.5,84.8 L227.0,92.1 L229.0,96.9 L230.0,99.6 L231.0,102.8 L234.0,113.2 L238.5,127.9 L243.0,143.9 L248.0,159.8 L250.0,165.6 L251.5,169.2 L252.0,170.1 L252.5,170.6 L253.0,170.9 L257.5,171.8 L266.0,173.1 L274.5,174.4 L283.0,175.4 L301.5,177.4 L322.5,179.2 L344.0,180.7 L369.0,182.1 L406.5,184.0 L458.0,186.3 L459.5,186.4 L460.0,186.6 L460.5,187.0 L461.0,187.8 L461.5,189.0 L463.0,193.6 L465.0,200.4 L469.0,215.2 L473.0,232.0 L477.5,252.7 L481.5,272.6 L484.0,286.2 L489.0,314.9" stroke-width="1.5"/>
<path d="M53.0,72.4 L70.5,73.4 L83.0,74.3 L90.5,74.5 L98.5,74.4 L108.5,74.0 L119.0,73.1 L129.0,71.9 L137.5,71.3 L142.5,71.1 L163.0,71.4 L176.0,71.7 L186.5,72.2 L190.0,72.4 L191.5,72.6 L193.0,73.0 L194.5,73.6 L200.0,76.0 L206.5,78.4 L214.0,81.6 L216.0,82.6 L218.0,83.9 L219.5,85.2 L221.0,86.7 L223.0,89.2 L224.0,90.6 L229.0,98.9 L230.0,100.8 L231.5,104.4 L239.5,124.9 L241.5,129.6 L243.0,132.8 L244.5,135.5 L245.0,136.2 L246.0,137.0 L247.5,137.7 L250.0,138.4 L260.0,140.3 L291.5,145.8 L296.5,146.5 L303.0,147.2 L323.5,149.3 L336.5,150.4 L350.0,151.1 L367.5,151.8 L400.0,152.6 L407.5,153.0 L412.5,153.4 L417.5,154.2 L420.0,154.8 L423.0,156.0 L428.0,158.5 L430.5,160.0 L433.5,162.1 L437.5,165.2 L440.5,167.8 L443.5,170.6 L446.5,173.8 L449.0,176.7 L451.5,179.9 L453.5,182.7 L455.0,185.1 L457.0,188.8 L460.5,196.1 L464.0,204.2 L467.0,210.6 L468.0,212.9 L469.5,217.2 L470.5,220.8 L471.5,224.9 L478.5,257.9 L483.0,281.0 L489.0,315.2" stroke-width="1.1"/>
</g>
<path d="M53.0,72.1 L145.5,73.6 L175.0,74.2 L184.0,74.5 L191.0,75.0 L195.5,75.5 L200.5,76.4 L203.5,77.2 L206.5,78.4 L213.0,81.1 L216.0,82.6 L218.0,83.9 L219.5,85.2 L221.0,86.7 L223.0,89.2 L225.0,92.2 L229.0,98.9 L230.0,100.8 L231.5,104.4 L239.5,124.9 L241.5,129.6 L243.0,132.8 L244.5,135.5 L245.0,136.2 L246.0,137.0 L247.5,137.7 L250.0,138.4 L260.0,140.3 L291.5,145.8 L296.5,146.5 L303.0,147.2 L323.5,149.3 L336.5,150.4 L350.0,151.1 L367.5,151.8 L400.0,152.6 L407.5,153.0 L412.5,153.4 L417.5,154.2 L420.0,154.8 L423.0,156.0 L428.0,158.5 L430.5,160.0 L433.5,162.1 L437.5,165.2 L440.5,167.8 L443.5,170.6 L446.5,173.8 L449.0,176.7 L451.5,179.9 L453.5,182.7 L455.0,185.1 L457.0,188.8 L460.5,196.1 L464.0,204.2 L467.0,210.6 L468.0,212.9 L469.5,217.2 L470.5,220.8 L471.5,224.9 L478.5,257.9 L483.0,281.0 L489.0,315.2" stroke="#f00" stroke-width="3.9"/>
</g>
<g fill="#fff" stroke="#000" stroke-width="1.15" clip-path="url(#pc)">
<circle cx="53.1" cy="58.4" r="3.0"/>
<circle cx="59.5" cy="59.3" r="3.0"/>
<circle cx="65.9" cy="59.9" r="3.0"/>
<circle cx="72.3" cy="60.5" r="3.0"/>
<circle cx="78.7" cy="61.1" r="3.0"/>
<circle cx="85.1" cy="61.7" r="3.0"/>
<circle cx="91.5" cy="62.3" r="3.0"/>
<circle cx="97.9" cy="62.8" r="3.0"/>
<circle cx="104.3" cy="63.3" r="3.0"/>
<circle cx="110.7" cy="63.6" r="3.0"/>
<circle cx="117.1" cy="63.8" r="3.0"/>
<circle cx="123.5" cy="64.0" r="3.0"/>
<circle cx="129.9" cy="64.1" r="3.0"/>
<circle cx="136.3" cy="64.2" r="3.0"/>
<circle cx="142.7" cy="64.3" r="3.0"/>
<circle cx="149.1" cy="64.4" r="3.0"/>
<circle cx="155.5" cy="64.5" r="3.0"/>
<circle cx="161.9" cy="64.6" r="3.0"/>
<circle cx="168.4" cy="64.6" r="3.0"/>
<circle cx="174.8" cy="64.7" r="3.0"/>
<circle cx="181.2" cy="64.7" r="3.0"/>
<circle cx="187.6" cy="64.7" r="3.0"/>
<circle cx="194.0" cy="64.7" r="3.0"/>
<circle cx="200.4" cy="64.7" r="3.0"/>
<circle cx="206.8" cy="64.8" r="3.0"/>
<circle cx="213.2" cy="64.8" r="3.0"/>
<circle cx="219.6" cy="67.7" r="3.0"/>
<circle cx="226.0" cy="69.5" r="3.0"/>
<circle cx="232.4" cy="69.8" r="3.0"/>
<circle cx="238.8" cy="70.0" r="3.0"/>
<circle cx="245.2" cy="70.1" r="3.0"/>
<circle cx="251.6" cy="70.2" r="3.0"/>
<circle cx="258.0" cy="70.3" r="3.0"/>
<circle cx="264.4" cy="70.4" r="3.0"/>
<circle cx="270.8" cy="70.5" r="3.0"/>
<circle cx="277.2" cy="70.6" r="3.0"/>
<circle cx="283.6" cy="70.7" r="3.0"/>
<circle cx="290.0" cy="70.8" r="3.0"/>
<circle cx="296.4" cy="70.8" r="3.0"/>
<circle cx="302.8" cy="70.9" r="3.0"/>
<circle cx="309.2" cy="71.1" r="3.0"/>
<circle cx="315.6" cy="71.2" r="3.0"/>
<circle cx="322.0" cy="71.3" r="3.0"/>
<circle cx="328.4" cy="71.4" r="3.0"/>
<circle cx="334.8" cy="71.4" r="3.0"/>
<circle cx="341.2" cy="71.4" r="3.0"/>
<circle cx="347.6" cy="71.5" r="3.0"/>
<circle cx="354.0" cy="71.6" r="3.0"/>
<circle cx="360.4" cy="71.9" r="3.0"/>
<circle cx="366.8" cy="72.1" r="3.0"/>
<circle cx="373.2" cy="72.7" r="3.0"/>
<circle cx="379.6" cy="73.4" r="3.0"/>
<circle cx="386.1" cy="74.5" r="3.0"/>
<circle cx="392.5" cy="75.6" r="3.0"/>
<circle cx="398.9" cy="77.8" r="3.0"/>
<circle cx="405.3" cy="81.3" r="3.0"/>
<circle cx="411.7" cy="85.6" r="3.0"/>
<circle cx="418.1" cy="91.8" r="3.0"/>
<circle cx="424.5" cy="99.9" r="3.0"/>
<circle cx="430.9" cy="109.6" r="3.0"/>
<circle cx="437.3" cy="121.5" r="3.0"/>
<circle cx="443.7" cy="133.6" r="3.0"/>
<circle cx="449.8" cy="150.1" r="3.0"/>
<circle cx="456.2" cy="167.8" r="3.0"/>
<circle cx="462.6" cy="189.5" r="3.0"/>
<circle cx="469.0" cy="214.5" r="3.0"/>
<circle cx="475.4" cy="242.9" r="3.0"/>
<circle cx="481.8" cy="274.4" r="3.0"/>
<circle cx="488.2" cy="310.7" r="3.0"/>
</g>
<rect x="53.0" y="10.2" width="480.2" height="301.2" fill="none" stroke="#000" stroke-width="1.25"/>
<path d="M53.0,311.4 v5.8 M149.0,311.4 v5.8 M245.1,311.4 v5.8 M341.1,311.4 v5.8 M437.2,311.4 v5.8 M533.2,311.4 v5.8 M101.0,311.4 v3.2 M197.1,311.4 v3.2 M293.1,311.4 v3.2 M389.1,311.4 v3.2 M485.2,311.4 v3.2 M53.0,311.4 h-5.8 M53.0,262.8 h-5.8 M53.0,214.2 h-5.8 M53.0,165.5 h-5.8 M53.0,116.9 h-5.8 M53.0,68.3 h-5.8 M53.0,19.7 h-5.8 M53.0,287.1 h-3.2 M53.0,238.5 h-3.2 M53.0,189.9 h-3.2 M53.0,141.2 h-3.2 M53.0,92.6 h-3.2 M53.0,44.0 h-3.2" fill="none" stroke="#000" stroke-width="1.25"/>
<g fill="#000">
<text x="49.4" y="330.9" textLength="7.2" lengthAdjust="spacingAndGlyphs" style="font-size:12.90px">0</text>
<text x="145.5" y="330.9" textLength="7.2" lengthAdjust="spacingAndGlyphs" style="font-size:12.90px">5</text>
<text x="237.9" y="330.9" textLength="14.3" lengthAdjust="spacingAndGlyphs" style="font-size:12.90px">10</text>
<text x="333.9" y="330.9" textLength="14.3" lengthAdjust="spacingAndGlyphs" style="font-size:12.90px">15</text>
<text x="430.0" y="330.9" textLength="14.3" lengthAdjust="spacingAndGlyphs" style="font-size:12.90px">20</text>
<text x="526.0" y="330.9" textLength="14.3" lengthAdjust="spacingAndGlyphs" style="font-size:12.90px">25</text>
<text x="25.6" y="315.3" textLength="17.8" lengthAdjust="spacingAndGlyphs" style="font-size:12.80px">0.0</text>
<text x="25.6" y="266.7" textLength="17.8" lengthAdjust="spacingAndGlyphs" style="font-size:12.80px">0.1</text>
<text x="25.6" y="218.1" textLength="17.8" lengthAdjust="spacingAndGlyphs" style="font-size:12.80px">0.2</text>
<text x="25.6" y="169.4" textLength="17.8" lengthAdjust="spacingAndGlyphs" style="font-size:12.80px">0.3</text>
<text x="25.6" y="120.8" textLength="17.8" lengthAdjust="spacingAndGlyphs" style="font-size:12.80px">0.4</text>
<text x="25.6" y="72.2" textLength="17.8" lengthAdjust="spacingAndGlyphs" style="font-size:12.80px">0.5</text>
<text x="25.6" y="23.6" textLength="17.8" lengthAdjust="spacingAndGlyphs" style="font-size:12.80px">0.6</text>
<text x="261.9" y="347.5" textLength="62.8" lengthAdjust="spacingAndGlyphs" style="font-size:12.70px">Voltage (V)</text>
<g transform="translate(17.9,156.6) rotate(-90)">
<text x="-29.9" y="0.0" textLength="59.8" lengthAdjust="spacingAndGlyphs" style="font-size:12.60px">Current (A)</text>
</g>
</g>
<rect x="55.8" y="13.4" width="192.8" height="39" fill="#fff" stroke="#5a5a5a" stroke-width="0.85"/>
<path d="M57,23.2 H92.2" stroke="#000" stroke-width="2.1" fill="none"/>
<circle cx="74.4" cy="42.4" r="2.8" fill="#fff" stroke="#000" stroke-width="1.15"/>
<g fill="#000">
<text x="96.0" y="28.5" textLength="150.2" lengthAdjust="spacingAndGlyphs" style="font-size:15.35px">Individual cell shading</text>
<text x="96.0" y="46.7" textLength="77.7" lengthAdjust="spacingAndGlyphs" style="font-size:15.35px">No shading</text>
</g>
<rect x="82.9" y="90.5" width="125.6" height="94.7" fill="#fff" stroke="#000" stroke-width="1.4"/>
<path d="M82.90,107.51 L116.14,108.19 L118.59,108.30 L120.50,108.45 L121.72,108.62 L123.09,108.91 L123.90,109.18 L124.72,109.54 L126.49,110.43 L127.31,110.93 L127.86,111.34 L128.26,111.75 L129.22,113.06 L129.76,114.04 L131.12,116.84 L133.71,124.65 L134.67,127.23 L135.21,128.32 L135.48,128.58 L135.89,128.82 L136.57,129.04 L139.30,129.66 L147.88,131.44 L151.01,131.91 L156.60,132.57 L160.14,132.92 L163.82,133.17 L168.59,133.38 L177.44,133.65 L179.49,133.77 L180.85,133.92 L182.21,134.16 L182.89,134.35 L183.71,134.74 L185.07,135.57 L185.75,136.06 L186.57,136.73 L187.66,137.74 L188.48,138.57 L189.29,139.49 L190.11,140.52 L191.47,142.51 L192.43,144.19 L192.97,145.39 L193.93,147.78 L194.88,150.41 L195.97,153.22 L196.38,154.61 L196.79,156.44 L198.69,167.04 L199.92,174.46 L201.42,184.60" fill="none" stroke="#f00" stroke-width="2.5" stroke-linejoin="round"/>
<path d="M109.1,185.2 v1.8 M135.2,185.2 v1.8 M161.4,185.2 v1.8 M187.6,185.2 v1.8 M82.9,185.2 h-2 M82.9,169.4 h-2 M82.9,153.6 h-2 M82.9,137.8 h-2 M82.9,122.1 h-2 M82.9,106.3 h-2 M82.9,90.5 h-2" fill="none" stroke="#000" stroke-width="1"/>
<g fill="#000">
<text x="81.0" y="193.3" textLength="3.9" lengthAdjust="spacingAndGlyphs" style="font-size:7.00px;font-weight:bold">0</text>
<text x="107.1" y="193.3" textLength="3.9" lengthAdjust="spacingAndGlyphs" style="font-size:7.00px;font-weight:bold">5</text>
<text x="131.3" y="193.3" textLength="7.8" lengthAdjust="spacingAndGlyphs" style="font-size:7.00px;font-weight:bold">10</text>
<text x="157.5" y="193.3" textLength="7.8" lengthAdjust="spacingAndGlyphs" style="font-size:7.00px;font-weight:bold">15</text>
<text x="183.7" y="193.3" textLength="7.8" lengthAdjust="spacingAndGlyphs" style="font-size:7.00px;font-weight:bold">20</text>
<text x="70.7" y="187.7" textLength="9.7" lengthAdjust="spacingAndGlyphs" style="font-size:7.00px;font-weight:bold">0.0</text>
<text x="70.7" y="171.9" textLength="9.7" lengthAdjust="spacingAndGlyphs" style="font-size:7.00px;font-weight:bold">0.1</text>
<text x="70.7" y="156.1" textLength="9.7" lengthAdjust="spacingAndGlyphs" style="font-size:7.00px;font-weight:bold">0.2</text>
<text x="70.7" y="140.3" textLength="9.7" lengthAdjust="spacingAndGlyphs" style="font-size:7.00px;font-weight:bold">0.3</text>
<text x="70.7" y="124.6" textLength="9.7" lengthAdjust="spacingAndGlyphs" style="font-size:7.00px;font-weight:bold">0.4</text>
<text x="70.7" y="108.8" textLength="9.7" lengthAdjust="spacingAndGlyphs" style="font-size:7.00px;font-weight:bold">0.5</text>
<text x="70.7" y="93.0" textLength="9.7" lengthAdjust="spacingAndGlyphs" style="font-size:7.00px;font-weight:bold">0.6</text>
<text x="93.0" y="130.0" textLength="29.6" lengthAdjust="spacingAndGlyphs" style="font-size:9.18px;font-weight:bold">Cell 24</text>
<text x="93.0" y="145.9" textLength="51.0" lengthAdjust="spacingAndGlyphs" style="font-size:9.18px;font-weight:bold">with unique</text>
<text x="93.0" y="161.9" textLength="62.3" lengthAdjust="spacingAndGlyphs" style="font-size:9.18px;font-weight:bold">I-V curve knee</text>
<text x="271.3" y="26.8" textLength="55.9" lengthAdjust="spacingAndGlyphs" style="font-size:9.15px;font-weight:bold">Cells 3 and 4</text>
<text x="271.3" y="42.6" textLength="55.9" lengthAdjust="spacingAndGlyphs" style="font-size:9.15px;font-weight:bold">with low Rsh</text>
</g>
<g fill="none" stroke="#0000ff" stroke-width="1.6">
<ellipse cx="182.2" cy="137.6" rx="14.5" ry="12.0"/>
<ellipse cx="242.45" cy="136.0" rx="9.0" ry="8.6"/>
<ellipse cx="296.2" cy="114.9" rx="11.7" ry="27.4"/>
<path d="M296.4,87.5 V53"/>
<path d="M233.6,138.6 L216,143.6"/>
</g>
<g fill="none" stroke="#0000ff" stroke-width="2.0">
<path d="M65,244.5 H113 M179.3,244.5 H234"/>
<path d="M260,244.5 H321.6 M391.8,244.6 H460"/>
</g>
<path d="M246.6,174.3 V311.4" fill="none" stroke="#0000ff" stroke-width="2.7" stroke-dasharray="3 3.03"/>
<polygon points="296.4,46.3 298.8,53.7 296.4,52.7 294.0,53.7" fill="#0000ff"/>
<polygon points="210.3,145.2 216.9,140.8 216.6,143.4 218.2,145.5" fill="#0000ff"/>
<polygon points="56.6,244.5 67.2,241.0 65.4,244.5 67.2,248.0" fill="#0000ff"/>
<polygon points="242.6,244.5 232.0,248.0 233.8,244.5 232.0,241.0" fill="#0000ff"/>
<polygon points="251.1,244.5 261.7,241.0 259.9,244.5 261.7,248.0" fill="#0000ff"/>
<polygon points="469.3,244.6 458.7,248.1 460.5,244.6 458.7,241.1" fill="#0000ff"/>
<g fill="#0000ff">
<text x="117.5" y="247.1" textLength="59.3" lengthAdjust="spacingAndGlyphs" style="font-size:14.05px;font-weight:bold">Region 2</text>
<text x="328.5" y="247.1" textLength="59.3" lengthAdjust="spacingAndGlyphs" style="font-size:14.05px;font-weight:bold">Region 1</text>
</g>
</svg>
</body>
</html>
